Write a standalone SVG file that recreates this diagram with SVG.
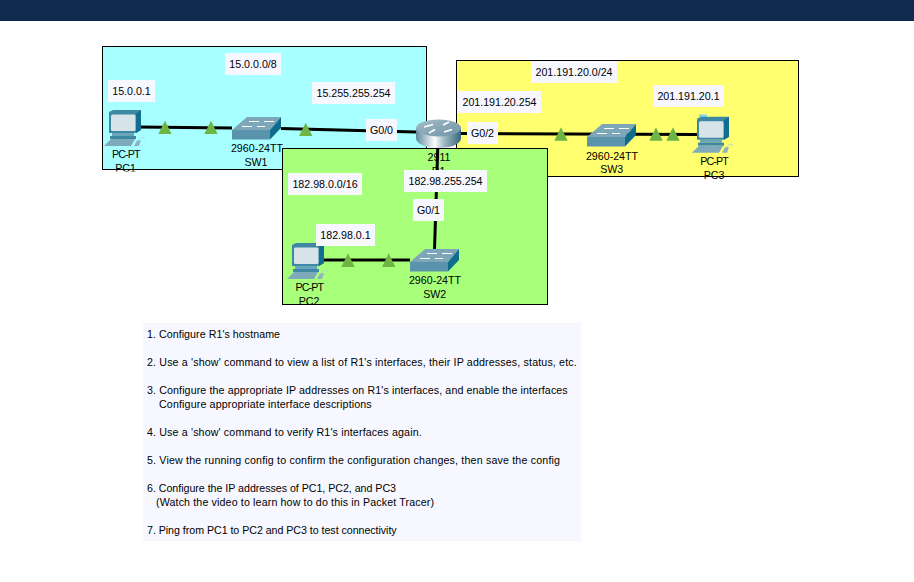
<svg xmlns="http://www.w3.org/2000/svg" xmlns:xlink="http://www.w3.org/1999/xlink" width="914" height="582" viewBox="0 0 914 582">
<style>
text{font-family:"Liberation Sans",Arial,sans-serif;font-size:10.67px;fill:#000}
.dev{text-anchor:middle}
.lb{text-anchor:middle}
.box{fill:#f7f8ff}
.area{stroke:#000;stroke-width:1}
.link{stroke:#000;stroke-width:3;fill:none}
.tri{fill:#6fb544}
.arr{stroke:#fff;stroke-width:1;fill:none}
.arrb{stroke:#fff;stroke-width:1.6;fill:none}
</style>
<defs>
<clipPath id="c1"><rect x="90" y="150" width="100" height="21.500"/></clipPath>
<clipPath id="c2"><rect x="280" y="280" width="100" height="24"/></clipPath>
<clipPath id="c3"><rect x="680" y="155" width="80" height="24.500"/></clipPath>
<linearGradient id="rg" x1="0" x2="1" y1="0" y2="0">
<stop offset="0" stop-color="#5f8a9c"/><stop offset=".42" stop-color="#ffffff"/><stop offset=".6" stop-color="#a9c0cb"/><stop offset="1" stop-color="#34657b"/>
</linearGradient>
<linearGradient id="rt" x1="0" x2="1" y1="0" y2="1">
<stop offset="0" stop-color="#a4bcc8"/><stop offset="1" stop-color="#6f93a5"/>
</linearGradient>
<g id="pc">
<path d="M5 2L9 0H37V20L32 23H5z" fill="#3f88a3"/>
<path d="M32 3.500L37 0V20L32 23z" fill="#106f90"/>
<rect x="7" y="4.500" width="24.500" height="16.500" rx="1.500" fill="#d6e4ea"/>
<rect x="8" y="23" width="22" height="3" fill="#6aa5bb"/>
<rect x="6" y="26" width="26" height="3" fill="#3f88a3"/>
<path d="M7 29H31L27 36H0z" fill="#7faabb"/>
<path d="M30 36L33 30.500H37L35 36z" fill="#8fb2c0"/>
<path d="M35 30c2-3 5-3 6-1" fill="none" stroke="#b7d0db"/>
</g>
<g id="sw">
<path d="M0 13L15 0H49L38 13z" fill="#7da6b8"/>
<path d="M0 13H38V22.500H0z" fill="#5a93ac"/>
<path d="M38 13L49 0V11L38 22.500z" fill="#0f6c8c"/>
<path class="arr" d="M17 4.500h10M32 4.500h10M10 9.500h10M25 9.500h8"/>
</g>
</defs>
<rect width="914" height="582" fill="#fff"/>
<rect width="914" height="21" fill="#0f2a4d"/>
<g id="areas">
<rect id="net15" class="area" x="102.500" y="46.500" width="324" height="123" fill="#a8ffff"/>
<rect id="net201" class="area" x="456.500" y="60.500" width="342" height="116" fill="#ffff70"/>
</g>
<g id="connectors-top">
<path class="link" d="M138 127L232 128M281 128.500L416 132M461 133.500L697 134.500"/>
</g>
<rect id="net182" class="area" x="282.500" y="148.500" width="265" height="156" fill="#a8ff7a"/>
<g id="pc-labels">
<g clip-path="url(#c1)"><text class="dev" x="125.500" y="172">PC1</text></g>
<g clip-path="url(#c2)"><text class="dev" x="309" y="305">PC2</text></g>
<g clip-path="url(#c3)"><text class="dev" x="714" y="179">PC3</text></g>
</g>
<g id="R1-text">
<text class="dev" x="439" y="161">2911</text>
<text class="dev" x="438.500" y="175">R1</text>
</g>
<g id="connectors">
<path class="link" d="M438 140L434.500 250M321 260H410"/>
<path class="tri" d="M165 120.700l6.700 13.300h-13.400zM211 120.700l6.700 13.300h-13.400zM305.700 122.700l6.700 13.300h-13.400zM561 127.300l6.700 13.400h-13.400zM656 127.300l6.700 13.400h-13.400zM673 127.300l6.700 13.400h-13.400zM348 253.300l6.700 13.700h-13.400zM388.700 253.300l6.700 13.700h-13.400z"/>
</g>
<g id="PC1"><use xlink:href="#pc" href="#pc" x="104" y="110"/><text x="112" y="158" textLength="28.500">PC-PT</text></g>
<g id="PC2"><use xlink:href="#pc" href="#pc" x="287" y="243"/><text x="295.500" y="290.500" textLength="28.500">PC-PT</text></g>
<g id="PC3"><rect x="699" y="114.500" width="8" height="2.500" fill="#7fd6e8"/><use xlink:href="#pc" href="#pc" x="692" y="116.700"/><text x="700.300" y="165" textLength="28.500">PC-PT</text></g>
<g id="SW1"><use xlink:href="#sw" href="#sw" x="232" y="117"/><text class="dev" x="257" y="152">2960-24TT</text><text class="dev" x="256" y="166">SW1</text></g>
<g id="SW2"><use xlink:href="#sw" href="#sw" x="410" y="249"/><text class="dev" x="435" y="284">2960-24TT</text><text class="dev" x="434.700" y="298">SW2</text></g>
<g id="SW3"><use xlink:href="#sw" href="#sw" x="587" y="124"/><text class="dev" x="612" y="159.500">2960-24TT</text><text class="dev" x="611.700" y="173">SW3</text></g>
<g id="R1">
<path d="M416 128V138C416 144 426 148 438.500 148S461 144 461 138V128z" fill="url(#rg)"/>
<ellipse cx="438.500" cy="128" rx="22.500" ry="8.500" fill="url(#rt)"/>
<path class="arrb" d="M424 127l9-2.500M444 132l8-2.500M429 133l6-3.500M443 125l6-3"/>
</g>
<g id="labels">
<rect class="box" x="225" y="53" width="56" height="22"/><text class="lb" x="253" y="68">15.0.0.0/8</text>
<rect class="box" x="108" y="80" width="47" height="22"/><text class="lb" x="131.500" y="95">15.0.0.1</text>
<rect class="box" x="312" y="82" width="83" height="22"/><text class="lb" x="353.500" y="97">15.255.255.254</text>
<rect class="box" x="366" y="119" width="31" height="22"/><text class="lb" x="381.500" y="134">G0/0</text>
<rect class="box" x="531" y="61" width="86" height="22"/><text class="lb" x="574" y="76">201.191.20.0/24</text>
<rect class="box" x="458" y="91" width="83" height="22"/><text class="lb" x="499.500" y="106">201.191.20.254</text>
<rect class="box" x="653" y="85" width="71" height="22"/><text class="lb" x="688.500" y="100">201.191.20.1</text>
<rect class="box" x="467" y="122" width="31" height="22"/><text class="lb" x="482.500" y="137">G0/2</text>
<rect class="box" x="404" y="170" width="83" height="22"/><text class="lb" x="445.500" y="185">182.98.255.254</text>
<rect class="box" x="413" y="199" width="31" height="22"/><text class="lb" x="428.500" y="214">G0/1</text>
<rect class="box" x="288" y="173" width="74" height="22"/><text class="lb" x="325" y="188">182.98.0.0/16</text>
<rect class="box" x="316" y="224" width="59" height="22"/><text class="lb" x="345.500" y="239">182.98.0.1</text>
</g>
<g id="notes">
<rect class="box" x="143" y="323" width="438" height="218"/>
<text x="147" y="338" textLength="133">1. Configure R1's hostname</text>
<text x="147" y="366" textLength="429.700">2. Use a 'show' command to view a list of R1's interfaces, their IP addresses, status, etc.</text>
<text x="147" y="394" textLength="420.700">3. Configure the appropriate IP addresses on R1's interfaces, and enable the interfaces</text>
<text x="159" y="408" textLength="212.700">Configure appropriate interface descriptions</text>
<text x="147" y="436" textLength="274.700">4. Use a 'show' command to verify R1's interfaces again.</text>
<text x="147" y="464" textLength="413">5. View the running config to confirm the configuration changes, then save the config</text>
<text x="147" y="492" textLength="249">6. Configure the IP addresses of PC1, PC2, and PC3</text>
<text x="156" y="506" textLength="278">(Watch the video to learn how to do this in Packet Tracer)</text>
<text x="147" y="534" textLength="249.700">7. Ping from PC1 to PC2 and PC3 to test connectivity</text>
</g>
</svg>
